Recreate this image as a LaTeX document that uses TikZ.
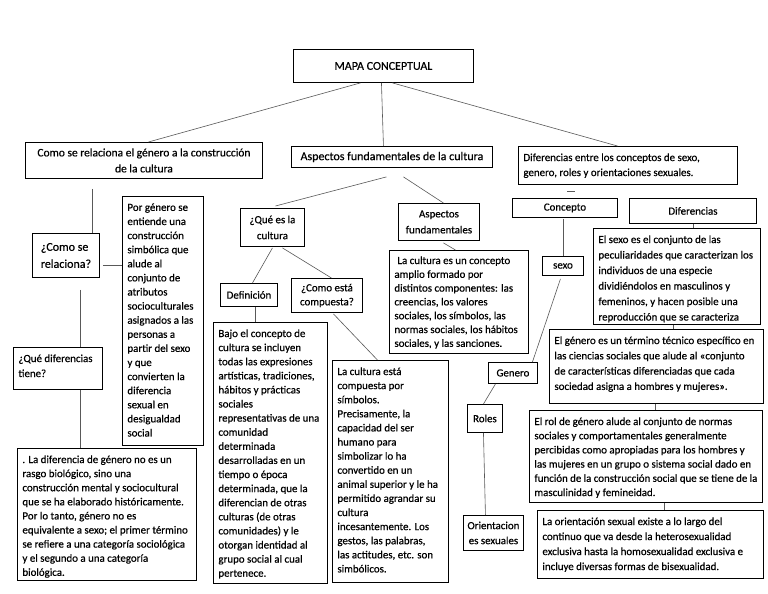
\documentclass[tikz,border=0pt]{standalone}
\usepackage{fontspec}
\setmainfont{Carlito}[FakeBold=0.5]
\newcommand{\boxtext}[3]{\parbox[c][\dimexpr#2pt-14pt\relax][t]{\dimexpr#1pt-10pt\relax}{\raggedright #3}}

\begin{document}
\begin{tikzpicture}[x=1pt, y=-1pt,
    cbox/.style={draw, line width=0.9pt, inner sep=0pt, anchor=north west, align=center,
      font=\fontsize{10.9}{14}\selectfont},
    tbox/.style={draw, line width=0.9pt, inner xsep=5pt, inner ysep=7pt, anchor=north west,
      font=\fontsize{10.9}{14.1}\selectfont},
    link/.style={draw=black!65, line width=0.6pt}]
    \fill[white] (0,0) rectangle (768,594);
    \useasboundingbox (0,0) rectangle (768,594);

    % Top level
    \node(title)[cbox, minimum width=180pt, minimum height=33pt, font=\fontsize{12}{14}\selectfont] at (293,49) {MAPA CONCEPTUAL};
    \node(como)[cbox, minimum width=237pt, minimum height=36pt, font=\fontsize{11.5}{16}\selectfont] at (25,142)
      {Como se relaciona el género a la construcción\\de la cultura};
    \node(asp)[cbox, minimum width=201pt, minimum height=21pt, font=\fontsize{12}{14}\selectfont] at (291,146)
      {Aspectos fundamentales de la cultura};
    \node(dif)[tbox, font=\fontsize{10.9}{15}\selectfont] at (518,146)
      {\boxtext{219}{38}{Diferencias entre los conceptos de sexo,\\genero, roles y orientaciones sexuales.}};

    % Left branch
    \node(rel)[cbox, align=left, minimum width=67pt, minimum height=44pt, font=\fontsize{12}{17}\selectfont] at (32,233)
      {¿Como se\\relaciona?};
    \node(porg)[tbox] at (122,196)
      {\boxtext{81}{249}{Por género se\\entiende una\\construcción\\simbólica que\\alude al\\conjunto de\\atributos\\socioculturales\\asignados a las\\personas a\\partir del sexo\\y que\\convierten la\\diferencia\\sexual en\\desigualdad\\social}};
    \node(qdif)[tbox, font=\fontsize{10.9}{15}\selectfont] at (13,347)
      {\boxtext{89}{42}{¿Qué diferencias\\tiene?}};
    \node(ladif)[tbox] at (17,448)
      {\boxtext{179}{132}{. La diferencia de género no es un\\rasgo biológico, sino una\\construcción mental y sociocultural\\que se ha elaborado históricamente.\\Por lo tanto, género no es\\equivalente a sexo; el primer término\\se refiere a una categoría sociológica\\y el segundo a una categoría\\biológica.}};

    % Middle branch
    \node(que)[cbox, minimum width=64pt, minimum height=38pt, font=\fontsize{10.9}{16}\selectfont] at (240,208)
      {¿Qué es la\\cultura};
    \node(defi)[cbox, minimum width=57pt, minimum height=23pt] at (220,283) {Definición};
    \node(comp)[cbox, minimum width=71pt, minimum height=34pt] at (291,278) {¿Como está\\compuesta?};
    \node(bajo)[tbox] at (213,322)
      {\boxtext{114}{261}{Bajo el concepto de\\cultura se incluyen\\todas las expresiones\\artísticas, tradiciones,\\hábitos y prácticas\\sociales\\representativas de una\\comunidad\\determinada\\desarrolladas en un\\tiempo o época\\determinada, que la\\diferencian de otras\\culturas (de otras\\comunidades) y le\\otorgan identidad al\\grupo social al cual\\pertenece.}};
    \node(compt)[tbox] at (332,360)
      {\boxtext{116}{222}{La cultura está\\compuesta por\\símbolos.\\Precisamente, la\\capacidad del ser\\humano para\\simbolizar lo ha\\convertido en un\\animal superior y le ha\\permitido agrandar su\\cultura\\incesantemente. Los\\gestos, las palabras,\\las actitudes, etc. son\\simbólicos.}};
    \node(aspf)[cbox, minimum width=81pt, minimum height=37pt, font=\fontsize{10.9}{16}\selectfont] at (398,203)
      {Aspectos\\fundamentales};
    \node(lacul)[tbox, inner ysep=6pt, font=\fontsize{10.9}{13.8}\selectfont] at (389,250)
      {\parbox[c][91pt][t]{129pt}{\raggedright\hspace{3pt}La cultura es un concepto\\amplio formado por\\distintos componentes: las\\creencias, los valores\\sociales, los símbolos, las\\normas sociales, los hábitos\\sociales, y las sanciones.}};

    % Right branch
    \node(con)[cbox, minimum width=105pt, minimum height=19pt] at (512,198) {Concepto};
    \node(difs)[cbox, minimum width=127pt, minimum height=25pt] at (629,198) {Diferencias};
    \node(sexo)[cbox, minimum width=41pt, minimum height=19pt] at (542,256) {sexo};
    \node(gen)[cbox, minimum width=49pt, minimum height=21pt] at (488,362) {Genero};
    \node(roles)[cbox, minimum width=35pt, minimum height=28pt] at (467,404) {Roles};
    \node(ori)[cbox, minimum width=60pt, minimum height=35pt, font=\fontsize{10.9}{15}\selectfont] at (463,515)
      {Orientacion\\es sexuales};
    \node(sexd)[tbox, font=\fontsize{10.9}{15.5}\selectfont] at (593,228)
      {\boxtext{167}{96}{El sexo es el conjunto de las\\peculiaridades que caracterizan los\\individuos de una especie\\dividiéndolos en masculinos y\\femeninos, y hacen posible una\\reproducción que se caracteriza}};
    \node(gend)[tbox, font=\fontsize{10.9}{15.3}\selectfont] at (549,329)
      {\boxtext{214}{74}{El género es un término técnico específico en\\las ciencias sociales que alude al «conjunto\\de características diferenciadas que cada\\sociedad asigna a hombres y mujeres».}};
    \node(rol)[tbox, font=\fontsize{10.9}{14.2}\selectfont] at (529,410)
      {\boxtext{233}{92}{El rol de género alude al conjunto de normas\\sociales y comportamentales generalmente\\percibidas como apropiadas para los hombres y\\las mujeres en un grupo o sistema social dado en\\función de la construcción social que se tiene de la\\masculinidad y femineidad.}};
    \node(orid)[tbox, font=\fontsize{10.9}{15}\selectfont] at (537,510)
      {\boxtext{226}{68}{La orientación sexual existe a lo largo del\\continuo que va desde la heterosexualidad\\exclusiva hasta la homosexualidad exclusiva e\\incluye diversas formas de bisexualidad.}};

    % Connectors
    \path ([xshift=-23pt]title.south) edge[link] ([xshift=4.5pt]como.north);
    \path ([xshift=-2pt]title.south)  edge[link] ([xshift=-8.5pt]asp.north);
    \path ([xshift=9pt]title.south)   edge[link] ([xshift=-10.5pt]dif.north);
    \path ([xshift=-51.5pt,yshift=-10pt]como.south) edge[link] ([xshift=26.5pt]rel.north);
    \coordinate (relR) at ([xshift=3pt,yshift=-10pt]rel.east);
    \path (relR) edge[link] (relR -| porg.west);
    \path ([xshift=14.5pt,yshift=-12pt]rel.south) edge[link] ([xshift=22.5pt]qdif.north);
    \path ([xshift=22.5pt]qdif.south) edge[link] ([xshift=-26.5pt]ladif.north);
    \path ([xshift=-5.5pt,yshift=-9pt]asp.south) edge[link] ([xshift=3pt,yshift=2pt]que.north);
    \path ([xshift=11.5pt,yshift=-9pt]asp.south) edge[link] ([xshift=4.5pt]aspf.north);
    \path ([yshift=-1pt]que.south) edge[link] ([xshift=3.5pt]defi.north);
    \path ([xshift=10pt,yshift=-1pt]que.south) edge[link] ([xshift=4.5pt]comp.north);
    \path ([xshift=6.5pt]defi.south) edge[link] ([xshift=-15pt]bajo.north);
    \path ([xshift=6.5pt,yshift=-1pt]comp.south) edge[link] ([xshift=-13pt]compt.north);
    \path ([xshift=4.5pt,yshift=-2pt]aspf.south) edge[link] ([xshift=-3.5pt]lacul.north);
    \coordinate (dash) at ([xshift=-60.5pt,yshift=-6pt]dif.south);
    \draw[link] (dash) -- ++(8,0);
    \path ([xshift=-1.5pt,yshift=-1pt]con.south) edge[link] ([xshift=0.5pt]sexo.north);
    \path ([xshift=-2.5pt,yshift=-3pt]sexo.south) edge[link] ([xshift=19.5pt]gen.north);
    \path ([xshift=-17.5pt]gen.south) edge[link] ([xshift=-1.5pt]roles.north);
    \path ([xshift=-1.5pt]roles.south) edge[link] ([xshift=-8pt]ori.north);
    \path ([xshift=0.5pt]difs.south) edge[link] ([xshift=16.5pt]sexd.north);
    \path ([xshift=-3.5pt]sexd.south) edge[link] ([xshift=17pt]gend.north);
    \path ([xshift=-1pt]gend.south) edge[link] ([xshift=9.5pt]rol.north);
    \path ([xshift=18.5pt]rol.south) edge[link] ([xshift=14pt]orid.north);
\end{tikzpicture}
\end{document}
